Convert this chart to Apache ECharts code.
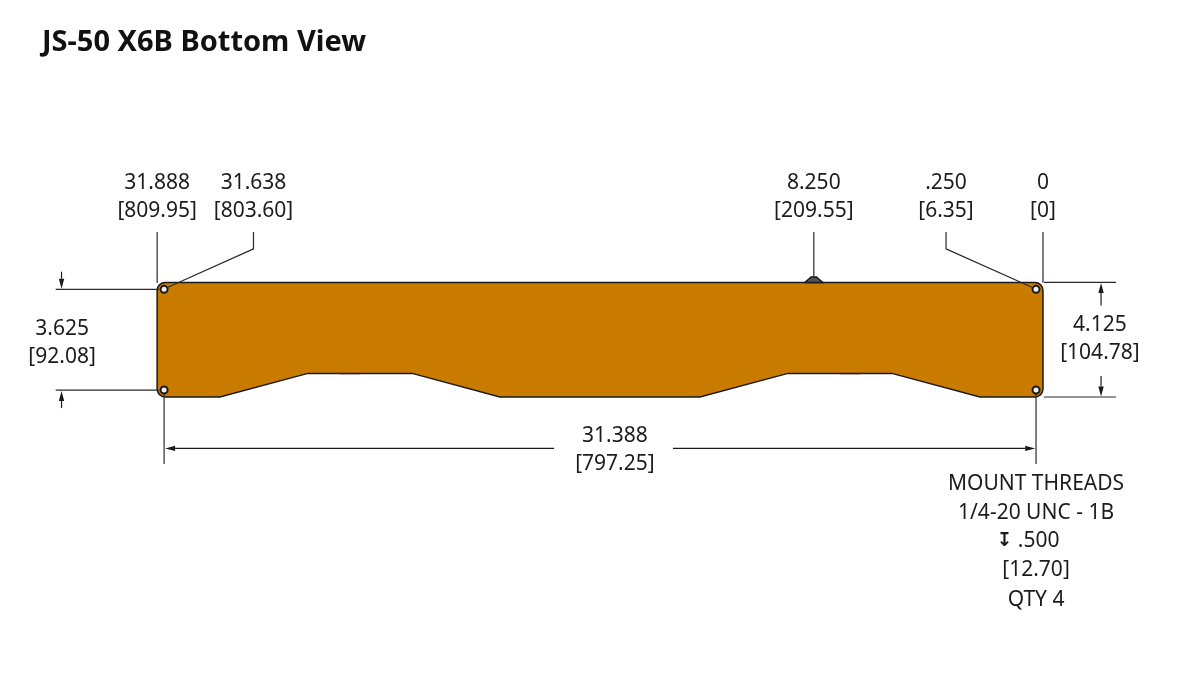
<!DOCTYPE html>
<html>
<head>
<meta charset="utf-8">
<title>JS-50 X6B Bottom View</title>
<style>html,body{margin:0;background:#fff}#main{width:1200px;height:675px}</style>
<script src="https://cdn.jsdelivr.net/npm/echarts@6/dist/echarts.min.js"></script>
</head>
<body>
<div id="main"></div>
<script>
// everything below is in inches, origin = bottom right corner of the plate
var titleText = 'JS-50 X6B Bottom View';

// clockwise from the top left corner
var outlineX = [31.598, 0.29, 0.179, 0.085, 0.022, 0, 0, 0.022, 0.085, 0.179, 0.29, 2.27, 5.44, 9.18, 12.35, 19.55, 22.71, 26.46, 29.63, 31.598, 31.709, 31.803, 31.866, 31.888, 31.888, 31.866, 31.803, 31.709];
var outlineY = [4.125, 4.125, 4.103, 4.04, 3.946, 3.835, 0.29, 0.179, 0.085, 0.022, 0, 0, 0.85, 0.85, 0, 0, 0.85, 0.85, 0, 0, 0.022, 0.085, 0.179, 0.29, 3.835, 3.946, 4.04, 4.103];
var holes = [[0.25, 3.875], [0.25, 0.25], [31.638, 3.875], [31.638, 0.25]];
var connectorX = [8.57, 8.45, 8.35, 8.15, 8.05, 7.93];
var connectorY = [4.125, 4.23, 4.32, 4.32, 4.23, 4.125];

var leaders = [
  [[31.888, 5.94], [31.888, 4.1]],
  [[28.42, 5.94], [28.42, 5.33], [31.5, 3.95]],
  [[8.25, 5.94], [8.25, 4.3]],
  [[3.49, 5.94], [3.49, 5.33], [0.4, 3.95]],
  [[0, 5.94], [0, 4.125]],
  [[-0.03, 4.125], [-2.63, 4.125]],
  [[-0.03, 0], [-2.63, 0]],
  [[35.54, 3.875], [31.82, 3.875]],
  [[35.54, 0.25], [31.82, 0.25]],
  [[0.25, 0.2], [0.25, -2.41]],
  [[31.638, 0.2], [31.638, -2.41]]
];
var notches = [
  [[25.3, 0.81], [24.59, 0.81]],
  [[7.31, 0.81], [6.59, 0.81]]
];
// [from x, from y, tip x, tip y]
var arrows = [
  [-2.09, 3.29, -2.09, 4.1],
  [-2.09, 0.76, -2.09, 0.02],
  [35.33, 4.51, 35.33, 3.9],
  [35.33, -0.4, 35.33, 0.22],
  [17.6, -1.85, 31.6, -1.85],
  [13.32, -1.85, 0.28, -1.85]
];
var labelX = [31.888, 28.42, 8.25, 3.49, 0, 35.31, -2.05, 15.41];
var labelY = [7.2, 7.2, 7.2, 7.2, 7.2, 1.95, 2.1, -1.9];
var labelText = [
  '31.888\n[809.95]',
  '31.638\n[803.60]',
  '8.250\n[209.55]',
  '.250\n[6.35]',
  '0\n[0]',
  '3.625\n[92.08]',
  '4.125\n[104.78]',
  '31.388\n[797.25]'
];
var noteX = [0.25, 0.25, 0.54, 0.25, 0.25];
var noteY = [-3.15, -4.19, -5.2, -6.24, -7.29];
var noteText = ['MOUNT THREADS', '1/4-20 UNC - 1B', '{g|↧} .500', '[12.70]', 'QTY 4'];

var fontName = '"Noto Sans", "DejaVu Sans", sans-serif';
var myChart = echarts.init(document.getElementById('main'), null, {renderer: 'canvas'});

function polygonItem(xs, ys, color) {
  return {
    type: 'custom',
    silent: true,
    z: 2,
    data: [[xs[0], ys[0]]],
    renderItem: function (params, api) {
      return {
        type: 'polygon',
        shape: {points: xs.map(function (x, i) { return api.coord([x, ys[i]]); })},
        style: {fill: color, stroke: '#1a1a1a', lineWidth: 1.5}
      };
    }
  };
}

function lineItem(points, color, z) {
  return {
    type: 'line',
    silent: true,
    data: points,
    symbol: 'none',
    z: z,
    lineStyle: {color: color, width: 1.2}
  };
}

function textItem(xs, ys, texts) {
  return {
    type: 'scatter',
    silent: true,
    symbolSize: 0,
    z: 6,
    itemStyle: {opacity: 1},
    data: xs.map(function (x, i) { return [x, ys[i], texts[i]]; }),
    label: {
      show: true,
      position: 'inside',
      formatter: function (p) { return p.value[2]; },
      fontFamily: fontName,
      fontSize: 21,
      lineHeight: 28,
      color: '#1c1c1c',
      align: 'center',
      verticalAlign: 'middle',
      rich: {
        g: {fontFamily: '"DejaVu Sans"', fontSize: 19, fontWeight: 'bold', color: '#1c1c1c'}
      }
    }
  };
}

var arrowSeries = {
  type: 'custom',
  silent: true,
  z: 5,
  data: arrows,
  renderItem: function (params, api) {
    var a = api.coord([api.value(0), api.value(1)]);
    var b = api.coord([api.value(2), api.value(3)]);
    var len = Math.sqrt((b[0] - a[0]) * (b[0] - a[0]) + (b[1] - a[1]) * (b[1] - a[1]));
    var ux = (b[0] - a[0]) / len, uy = (b[1] - a[1]) / len;
    var bx = b[0] - ux * 10, by = b[1] - uy * 10;
    return {
      type: 'group',
      children: [
        {type: 'line', shape: {x1: a[0], y1: a[1], x2: bx, y2: by}, style: {stroke: '#1a1a1a', lineWidth: 1.2}},
        {type: 'polygon', shape: {points: [b, [bx - uy * 2.7, by + ux * 2.7], [bx + uy * 2.7, by - ux * 2.7]]}, style: {fill: '#1a1a1a'}}
      ]
    };
  }
};

var holeSeries = {
  type: 'scatter',
  silent: true,
  z: 4,
  data: holes,
  symbolSize: 7,
  itemStyle: {color: '#eeeeee', borderColor: '#1a1a1a', borderWidth: 2, opacity: 1}
};

var series = [polygonItem(outlineX, outlineY, '#c97b00'), polygonItem(connectorX, connectorY, '#555555')];
leaders.forEach(function (p) { series.push(lineItem(p, '#2a2a2a', 3)); });
notches.forEach(function (p) { series.push(lineItem(p, '#d8d2c4', 1)); });
series.push(holeSeries, arrowSeries, textItem(labelX, labelY, labelText), textItem(noteX, noteY, noteText));

var option = {
  animation: false,
  tooltip: {show: false},
  title: {
    text: titleText,
    left: 37,
    top: 23,
    textStyle: {fontFamily: fontName, fontSize: 29, fontWeight: 'bold', color: '#111'}
  },
  grid: {left: 0, right: 0, top: 0, bottom: 0},
  xAxis: {type: 'value', show: false, inverse: true, min: -5.652, max: 37.545},
  yAxis: {type: 'value', show: false, min: -10.007, max: 14.29},
  series: series
};
myChart.setOption(option);
</script>
</body>
</html>
